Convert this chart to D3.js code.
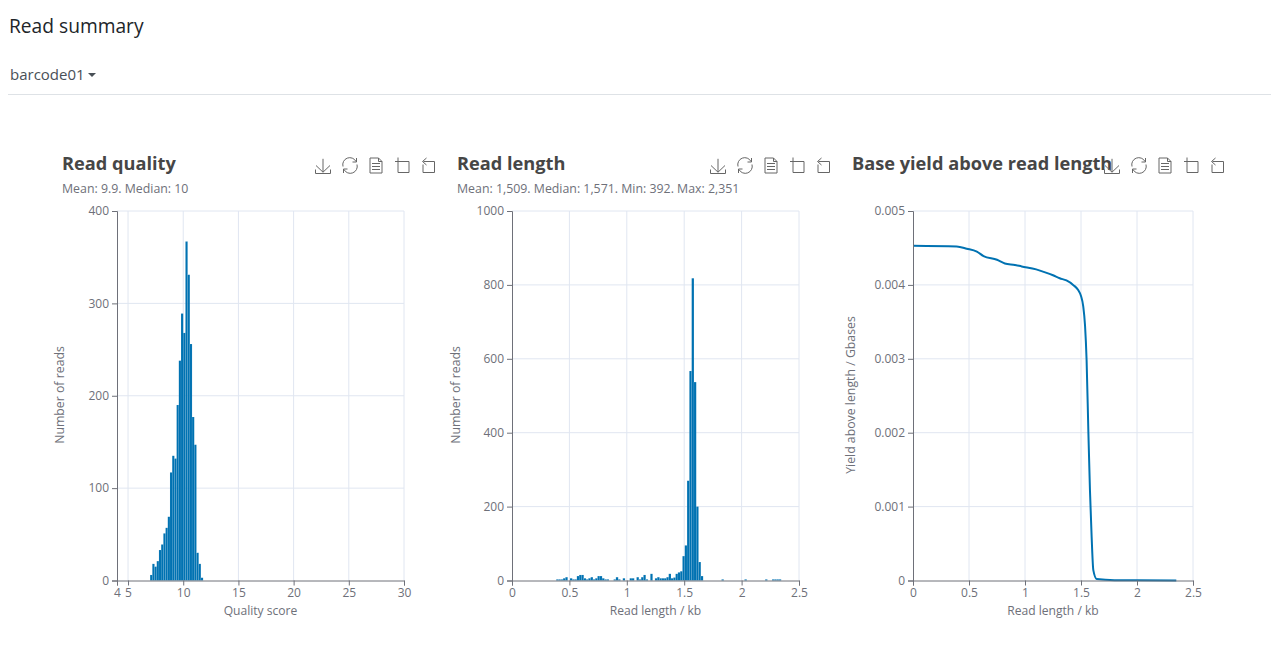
<!DOCTYPE html>
<html>
<head>
<meta charset="utf-8">
<script src="https://cdn.jsdelivr.net/npm/d3@7"></script>
<style>
body { margin: 0; background: #fff; font-family: "Open Sans", sans-serif; }
text { font-family: "Open Sans", sans-serif; }
</style>
</head>
<body>
<svg id="page" width="1271" height="665"></svg>
<script>
// histogram of quality score, bins 0.2 wide
const qualityStart = 7.0;
const qualityBin = 0.2;
const qualityCounts = [6, 18, 15, 21, 33, 39, 51, 57, 69, 117, 135, 132, 190, 238, 289, 268, 367, 331, 256, 177, 147, 30, 18, 3];

// histogram of read length in kb, bins 0.02 wide
const lengthStart = 0.385;
const lengthBin = 0.02;
const lengthCounts = [3, 3, 3, 6, 9, 0, 6, 3, 3, 12, 15, 15, 6, 3, 6, 9, 3, 6, 12, 12,
    6, 3, 3, 0, 0, 3, 9, 3, 0, 6, 0, 0, 6, 6, 0, 9, 3, 9, 15, 3,
    0, 18, 0, 6, 9, 6, 6, 6, 9, 18, 6, 8, 18, 22, 25, 66, 95, 270, 567, 818,
    537, 200, 50, 12, 0, 0, 0, 0, 0, 0, 0, 0, 3, 0, 0, 0, 0, 0, 0, 0,
    0, 0, 3, 0, 0, 0, 0, 0, 0, 0, 0, 3, 0, 0, 3, 3, 3, 3];

// yield curve
const yieldLengths = [0, 0.39, 0.48, 0.57, 0.63, 0.75, 0.82, 0.91, 0.97, 1.10, 1.18, 1.25, 1.31, 1.37, 1.43, 1.475, 1.50, 1.52, 1.536, 1.55, 1.566, 1.58, 1.595, 1.61, 1.64, 1.8, 2.0, 2.351];
const yieldValues = [0.00453, 0.00452, 0.00449, 0.00445, 0.00439, 0.00434, 0.00429, 0.00427, 0.00425, 0.00421, 0.00417, 0.00413, 0.00409, 0.00406, 0.0040, 0.00393, 0.00385, 0.00371, 0.00345, 0.00298, 0.0020, 0.00122, 0.00059, 0.00014, 0.00002, 0.000005, 0.000004, 0];

const qualityTicks = [4, 5, 10, 15, 20, 25, 30];
const lengthTicks = [0, 0.5, 1, 1.5, 2, 2.5];
const countTicks1 = [0, 100, 200, 300, 400];
const countTicks2 = [0, 200, 400, 600, 800, 1000];
const yieldTicks = [0, 0.001, 0.002, 0.003, 0.004, 0.005];

const BLUE = "#0072b2";
const AXIS = "#6e7079";
const GRID = "#e0e6f1";
const TOP = 211, BOTTOM = 580.5;

const svg = d3.select("#page");

// page header
svg.append("text").attr("x", 9).attr("y", 33).attr("font-size", 19.2).attr("font-weight", 500).attr("fill", "#212529").text("Read summary");
svg.append("text").attr("x", 10).attr("y", 80).attr("font-size", 15).attr("fill", "#495057").text("barcode01");
svg.append("path").attr("d", "M88,73 h8 l-4,4 z").attr("fill", "#495057");
svg.append("line").attr("x1", 8).attr("x2", 1271).attr("y1", 94.5).attr("y2", 94.5).attr("stroke", "#dee2e6");

const icons = [
    "M0,-6.7 V6.7 M-7,0 L0,6.7 L7,0 M-7.5,4 V8 H7.5 V4",
    "M-7,1 A7,7 0 0 1 6,-4 M6.5,-7.5 V-3.5 H2.5 M7,-1 A7,7 0 0 1 -6,4 M-6.5,7.5 V3.5 H-2.5",
    "M-6,-7.5 H2.5 L6,-4 V7.5 H-6 Z M2.5,-7.5 V-4 H6 M-4,-2 H4 M-4,1 H4 M-4,4 H4",
    "M-4,-8 V7 H7 V-4 H-7",
    "M-5,-1 V7 H6.5 V-4 H-4.5 M-1.5,-7.5 L-5.5,-4 L-1.5,-0.5"
];

function draw_toolbox(x0)
{
    const offsets = [0, 27, 53, 79, 105];
    icons.forEach((d, i) => {
        svg.append("path")
            .attr("transform", `translate(${x0 + offsets[i]},165.5)`)
            .attr("d", d)
            .attr("fill", "none")
            .attr("stroke", "#666")
            .attr("stroke-width", 1);
    });
}

function draw_frame(opt)
{
    const x = d3.scaleLinear().domain(opt.xDomain).range(opt.xRange);
    const y = d3.scaleLinear().domain(opt.yDomain).range([BOTTOM, TOP]);
    const g = svg.append("g");

    // grid first
    g.selectAll(".vgrid").data(opt.xTicks.slice(1)).enter().append("line")
        .attr("x1", d => x(d)).attr("x2", d => x(d))
        .attr("y1", TOP).attr("y2", BOTTOM)
        .attr("stroke", GRID);
    g.selectAll(".hgrid").data(opt.yTicks.slice(1)).enter().append("line")
        .attr("x1", opt.xRange[0]).attr("x2", opt.xRange[1])
        .attr("y1", d => y(d)).attr("y2", d => y(d))
        .attr("stroke", GRID);

    opt.marks(g, x, y);

    const xAxis = g.append("g").attr("transform", `translate(0,${BOTTOM})`)
        .call(d3.axisBottom(x).tickValues(opt.xTicks).tickFormat(d3.format("")).tickSizeOuter(0).tickSize(5).tickPadding(3));
    const yAxis = g.append("g").attr("transform", `translate(${opt.xRange[0]},0)`)
        .call(d3.axisLeft(y).tickValues(opt.yTicks).tickFormat(opt.yFormat).tickSizeOuter(0).tickSize(5).tickPadding(3));
    [xAxis, yAxis].forEach(a => {
        a.selectAll("line,path").attr("stroke", AXIS);
        a.selectAll("text").attr("fill", AXIS).attr("font-size", 12).attr("font-family", '"Open Sans", sans-serif');
    });

    // titles
    g.append("text").attr("x", opt.titleX).attr("y", 170).attr("font-size", 18.2).attr("font-weight", 700).attr("fill", "#464646").text(opt.title);
    if (opt.subtitle) {
        g.append("text").attr("x", opt.titleX).attr("y", 192.5).attr("font-size", 12.35).attr("fill", AXIS).text(opt.subtitle);
    }
    g.append("text")
        .attr("x", (opt.xRange[0] + opt.xRange[1]) / 2).attr("y", 615)
        .attr("text-anchor", "middle").attr("font-size", 12.1).attr("fill", AXIS)
        .text(opt.xName);
    g.append("text")
        .attr("transform", `translate(${opt.yNameX},395) rotate(-90)`)
        .attr("text-anchor", "middle").attr("font-size", 12.3).attr("fill", AXIS)
        .text(opt.yName);

    draw_toolbox(opt.toolX);
}

function histogram(start, bin, counts)
{
    return (g, x, y) => {
        g.selectAll(".bar").data(counts).enter().append("rect")
            .attr("x", (d, i) => x(start + i * bin))
            .attr("width", (d, i) => x(start + (i + 1) * bin) - x(start + i * bin))
            .attr("y", d => y(d))
            .attr("height", d => y(0) - y(d))
            .attr("fill", BLUE)
            .attr("stroke", "rgba(255,255,255,0.2)")
            .attr("stroke-width", 0.4);
    };
}

draw_frame({
    title: "Read quality", subtitle: "Mean: 9.9. Median: 10", titleX: 62, toolX: 323,
    xDomain: [4, 30], xRange: [117, 404], xTicks: qualityTicks,
    yDomain: [0, 400], yTicks: countTicks1, yFormat: d3.format("d"),
    xName: "Quality score", yName: "Number of reads", yNameX: 64,
    marks: histogram(qualityStart, qualityBin, qualityCounts)
});

draw_frame({
    title: "Read length", subtitle: "Mean: 1,509. Median: 1,571. Min: 392. Max: 2,351", titleX: 457, toolX: 718,
    xDomain: [0, 2.5], xRange: [512, 799], xTicks: lengthTicks,
    yDomain: [0, 1000], yTicks: countTicks2, yFormat: d3.format("d"),
    xName: "Read length / kb", yName: "Number of reads", yNameX: 460,
    marks: histogram(lengthStart, lengthBin, lengthCounts)
});

draw_frame({
    title: "Base yield above read length", subtitle: null, titleX: 852, toolX: 1112,
    xDomain: [0, 2.5], xRange: [913, 1193], xTicks: lengthTicks,
    yDomain: [0, 0.005], yTicks: yieldTicks, yFormat: d3.format(".3~f"),
    xName: "Read length / kb", yName: "Yield above length / Gbases", yNameX: 855,
    marks: (g, x, y) => {
        const line = d3.line().x(d => x(d[0])).y(d => y(d[1])).curve(d3.curveMonotoneX);
        g.append("path")
            .attr("d", line(d3.zip(yieldLengths, yieldValues)))
            .attr("fill", "none")
            .attr("stroke", BLUE)
            .attr("stroke-width", 2);
    }
});
</script>
</body>
</html>
